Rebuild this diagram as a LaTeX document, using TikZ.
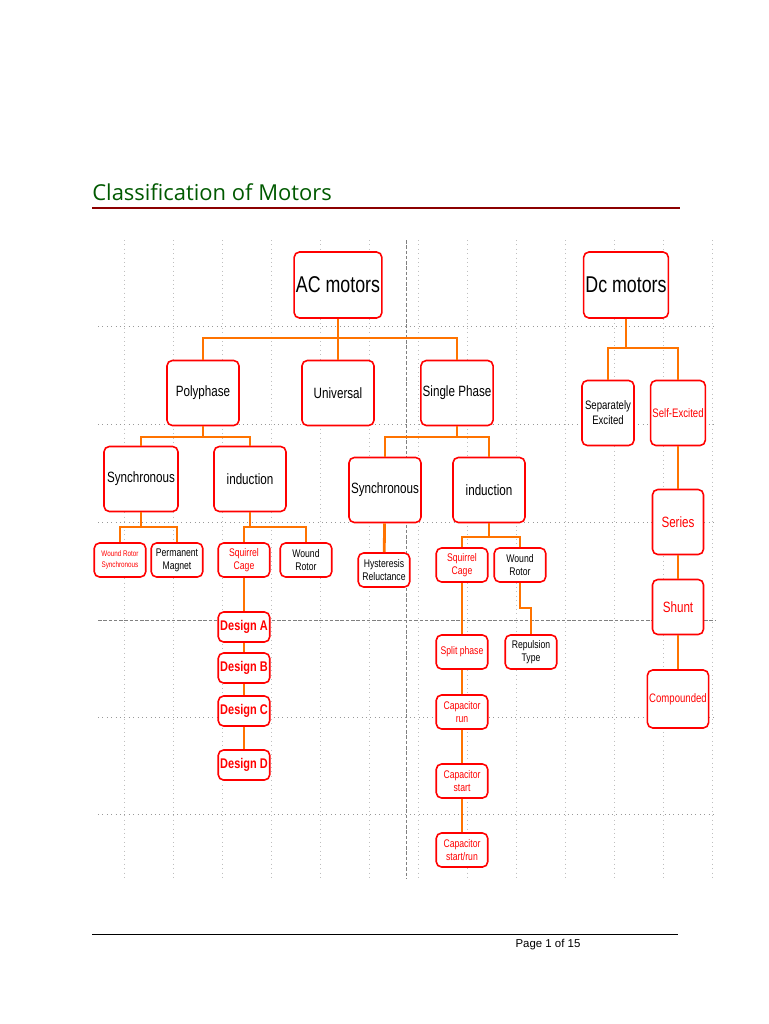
\documentclass[tikz,border=0pt]{standalone}
\usepackage{fontspec}
\setmainfont{Liberation Sans}
\newfontfamily\narrowfont[FakeStretch=0.78]{Liberation Sans}
\newfontfamily\titlefont{Open Sans}
\usetikzlibrary{positioning,calc}

\tikzset{
  box/.style={draw=red, line width=0.9pt, rounded corners=3pt, fill=white, align=center, inner sep=1pt, font=\narrowfont},
  big/.style={box, minimum width=1.44cm, minimum height=1.32cm, font=\narrowfont\fontsize{13}{14}\selectfont},
  mid/.style={box, minimum width=1.44cm, minimum height=1.3cm, font=\narrowfont\fontsize{8.5}{10}\selectfont},
  tall/.style={box, minimum width=1.08cm, minimum height=1.3cm, font=\narrowfont\fontsize{7}{8.5}\selectfont},
  small/.style={box, minimum width=1.03cm, minimum height=0.68cm, font=\narrowfont\fontsize{6.3}{7.5}\selectfont},
  design/.style={box, minimum width=1.03cm, minimum height=0.6cm, font=\narrowfont\bfseries\fontsize{8}{9}\selectfont, text=red},
  link/.style={draw=orange!90!red, line width=1.6pt},
  grid/.style={gray!80, line width=0.5pt, dotted}
}

\begin{document}
\begin{tikzpicture}[x=0.02cm, y=-0.02cm]
  \useasboundingbox (0,0) rectangle (768,1024);

  % title and page frame
  \node[anchor=base west, font=\titlefont\fontsize{12.5}{14}\selectfont, text=green!35!black, inner sep=0] (title) at (92,200) {Classification of Motors};
  \draw[red!55!black, line width=1.3pt] (92,208) -- (680,208);
  \draw[black, line width=0.5pt] (92,934) -- (678,934);
  \node[anchor=base, font=\fontsize{6.5}{8}\selectfont, inner sep=0] (page) at (548,947) {Page 1 of 15};

  % background grid
  \foreach \gx in {124,173,...,712} \draw[grid, gray!50] (\gx,240) -- (\gx,878);
  \foreach \gy in {326,424,522,717,814} \draw[grid] (98,\gy) -- (715,\gy);
  \draw[gray, line width=0.5pt, dash pattern=on 2pt off 1pt] (98,620) -- (715,620);
  \draw[gray, line width=0.5pt, dash pattern=on 2pt off 1pt] (406,240) -- (406,878);

  % top level
  \node[big] (ac) at (338,285) {AC motors};
  \node[big, minimum width=1.4cm] (dc) at (626,285) {Dc motors};

  % second level
  \node[mid] (poly) at (203,393) {Polyphase};
  \node[mid] (univ) at (338,393) {Universal};
  \node[mid] (single) at (457,393) {Single Phase};
  \node[tall, minimum width=1.04cm] (sep) at (608,413) {Separately\\Excited};
  \node[tall, text=red] (self) at (678,413) {Self-Excited};

  % third level
  \node[mid, minimum width=1.48cm] (psync) at (141,479) {Synchronous};
  \node[mid] (pind) at (250,479) {induction};
  \node[mid] (ssync) at (385,490) {Synchronous};
  \node[mid] (sind) at (489,490) {induction};
  \node[tall, minimum width=1.02cm, font=\narrowfont\fontsize{8.5}{10}\selectfont, text=red] (series) at (678,522) {Series};
  \node[tall, minimum width=1.02cm, minimum height=1.1cm, font=\narrowfont\fontsize{8.5}{10}\selectfont, text=red] (shunt) at (678,607) {Shunt};
  \node[tall, minimum height=1.16cm, text=red] (comp) at (678,699) {Compounded};

  % fourth level
  \node[small, text=red, font=\narrowfont\fontsize{4.6}{6}\selectfont] (wrsync) at (120,560) {Wound Rotor\\Synchronous};
  \node[small] (perm) at (177,560) {Permanent\\Magnet};
  \node[small, text=red] (psq) at (244,560) {Squirrel\\Cage};
  \node[small] (pwr) at (306,560) {Wound\\Rotor};
  \node[small] (hyst) at (384,570) {Hysteresis\\Reluctance};
  \node[small, text=red] (ssq) at (462,565) {Squirrel\\Cage};
  \node[small] (swr) at (520,565) {Wound\\Rotor};

  % designs
  \node[design] (desA) at (244,627) {Design A};
  \node[design] (desB) at (244,668) {Design B};
  \node[design] (desC) at (244,711) {Design C};
  \node[design] (desD) at (244,765) {Design D};

  % single phase variants
  \node[small, text=red] (split) at (462,652) {Split phase};
  \node[small] (rep) at (531,652) {Repulsion\\Type};
  \node[small, text=red] (caprun) at (462,712) {Capacitor\\run};
  \node[small, text=red] (capstart) at (462,781) {Capacitor\\start};
  \node[small, text=red] (capsr) at (462,850) {Capacitor\\start/run};

  % connectors
  \draw[link] (ac.south) -- (338,338) -| (poly.north);
  \draw[link] (338,338) -- (univ.north);
  \draw[link] (338,338) -| (single.north);
  \draw[link] (dc.south) -- (626,348) -| (sep.north);
  \draw[link] (626,348) -| (self.north);

  \draw[link] (poly.south) -- (203,437) -| (psync.north);
  \draw[link] (203,437) -| (pind.north);
  \draw[link] (single.south) -- (457,437) -| (ssync.north);
  \draw[link] (457,437) -| (sind.north);

  \draw[link] (psync.south) -- (141,527) -| (wrsync.north);
  \draw[link] (141,527) -| (perm.north);
  \draw[link] (pind.south) -- (250,527) -| (psq.north);
  \draw[link] (250,527) -| (pwr.north);
  \draw[link] (ssync) -- (hyst);
  \draw[link] (sind.south) -- (489,537) -| (ssq.north);
  \draw[link] (489,537) -| (swr.north);

  \draw[link] (self) -- (series);
  \draw[link] (series) -- (shunt);
  \draw[link] (shunt) -- (comp);

  \draw[link] (psq) -- (desA);
  \draw[link] (desA) -- (desB);
  \draw[link] (desB) -- (desC);
  \draw[link] (desC) -- (desD);

  \draw[link] (ssq) -- (split);
  \draw[link] (split) -- (caprun);
  \draw[link] (caprun) -- (capstart);
  \draw[link] (capstart) -- (capsr);
  \draw[link] (swr.south) |- (531,608) -- (rep.north);
\end{tikzpicture}
\end{document}
